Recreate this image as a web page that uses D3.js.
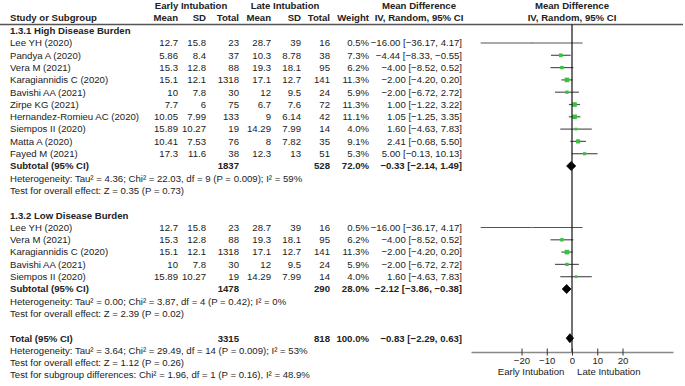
<!DOCTYPE html>
<html>
<head>
<meta charset="utf-8">
<script src="https://cdn.jsdelivr.net/npm/d3@7"></script>
<style>
  body { margin: 0; background: #fff; }
  svg text { font-family: "Liberation Sans", Arial, sans-serif; font-size: 9.6px; fill: #222; }
  .b { font-weight: bold; }
</style>
</head>
<body>
<div id="forest"></div>
<script>
var width = 685, height = 386;

// ---- data ----
var group1Names = ["Lee YH (2020)", "Pandya A (2020)", "Vera M (2021)", "Karagiannidis C (2020)", "Bavishi AA (2021)",
  "Zirpe KG (2021)", "Hernandez-Romieu AC (2020)", "Siempos II (2020)", "Matta A (2020)", "Fayed M (2021)"];
var group1EarlyMean = ["12.7", "5.86", "15.3", "15.1", "10", "7.7", "10.05", "15.89", "10.41", "17.3"];
var group1EarlySD = ["15.8", "8.4", "12.8", "12.1", "7.8", "6", "7.99", "10.27", "7.53", "11.6"];
var group1EarlyN = [23, 37, 88, 1318, 30, 75, 133, 19, 76, 38];
var group1LateMean = ["28.7", "10.3", "19.3", "17.1", "12", "6.7", "9", "14.29", "8", "12.3"];
var group1LateSD = ["39", "8.78", "18.1", "12.7", "9.5", "7.6", "6.14", "7.99", "7.82", "13"];
var group1LateN = [16, 38, 95, 141, 24, 72, 42, 14, 35, 51];
var group1Weight = [0.5, 7.3, 6.2, 11.3, 5.9, 11.3, 11.1, 4.0, 9.1, 5.3];
var group1MD = [-16.00, -4.44, -4.00, -2.00, -2.00, 1.00, 1.05, 1.60, 2.41, 5.00];
var group1Lo = [-36.17, -8.33, -8.52, -4.20, -6.72, -1.22, -1.25, -4.63, -0.68, -0.13];
var group1Hi = [4.17, -0.55, 0.52, 0.20, 2.72, 3.22, 3.35, 7.83, 5.50, 10.13];

var group2Names = ["Lee YH (2020)", "Vera M (2021)", "Karagiannidis C (2020)", "Bavishi AA (2021)", "Siempos II (2020)"];
var group2EarlyMean = ["12.7", "15.3", "15.1", "10", "15.89"];
var group2EarlySD = ["15.8", "12.8", "12.1", "7.8", "10.27"];
var group2EarlyN = [23, 88, 1318, 30, 19];
var group2LateMean = ["28.7", "19.3", "17.1", "12", "14.29"];
var group2LateSD = ["39", "18.1", "12.7", "9.5", "7.99"];
var group2LateN = [16, 95, 141, 24, 14];
var group2Weight = [0.5, 6.2, 11.3, 5.9, 4.0];
var group2MD = [-16.00, -4.00, -2.00, -2.00, 1.60];
var group2Lo = [-36.17, -8.52, -4.20, -6.72, -4.63];
var group2Hi = [4.17, 0.52, 0.20, 2.72, 7.83];

// subtotal 1, subtotal 2, overall
var pooledLabels = ["Subtotal (95% CI)", "Subtotal (95% CI)", "Total (95% CI)"];
var pooledEarlyN = [1837, 1478, 3315];
var pooledLateN = [528, 290, 818];
var pooledWeight = ["72.0%", "28.0%", "100.0%"];
var pooledMD = [-0.33, -2.12, -0.83];
var pooledLo = [-2.14, -3.86, -2.29];
var pooledHi = [1.49, -0.38, 0.63];

var group1Notes = ["Heterogeneity: Tau\u00b2 = 4.36; Chi\u00b2 = 22.03, df = 9 (P = 0.009); I\u00b2 = 59%",
  "Test for overall effect: Z = 0.35 (P = 0.73)"];
var group2Notes = ["Heterogeneity: Tau\u00b2 = 0.00; Chi\u00b2 = 3.87, df = 4 (P = 0.42); I\u00b2 = 0%",
  "Test for overall effect: Z = 2.39 (P = 0.02)"];
var totalNotes = ["Heterogeneity: Tau\u00b2 = 3.64; Chi\u00b2 = 29.49, df = 14 (P = 0.009); I\u00b2 = 53%",
  "Test for overall effect: Z = 1.12 (P = 0.26)",
  "Test for subgroup differences: Chi\u00b2 = 1.96, df = 1 (P = 0.16), I\u00b2 = 48.9%"];

var axisTicks = [-20, -10, 0, 10, 20];

// ---- build rows ----
function studyRows(names, em, esd, en, lm, lsd, ln, w, md, lo, hi) {
  return names.map(function (n, i) {
    return {type: "study", name: n, em: em[i], esd: esd[i], en: en[i], lm: lm[i], lsd: lsd[i], ln: ln[i],
            w: w[i], md: md[i], lo: lo[i], hi: hi[i]};
  });
}
function pooledRow(k) {
  return {type: "pooled", name: pooledLabels[k], en: pooledEarlyN[k], ln: pooledLateN[k],
          wText: pooledWeight[k], md: pooledMD[k], lo: pooledLo[k], hi: pooledHi[k]};
}
function noteRows(notes) { return notes.map(function (t) { return {type: "note", name: t}; }); }

var rows = [].concat(
  [{type: "heading", name: "1.3.1 High Disease Burden"}],
  studyRows(group1Names, group1EarlyMean, group1EarlySD, group1EarlyN, group1LateMean, group1LateSD, group1LateN,
            group1Weight, group1MD, group1Lo, group1Hi),
  [pooledRow(0)], noteRows(group1Notes),
  [{type: "blank"}, {type: "heading", name: "1.3.2 Low Disease Burden"}],
  studyRows(group2Names, group2EarlyMean, group2EarlySD, group2EarlyN, group2LateMean, group2LateSD, group2LateN,
            group2Weight, group2MD, group2Lo, group2Hi),
  [pooledRow(1)], noteRows(group2Notes),
  [{type: "blank"}, pooledRow(2)], noteRows(totalNotes)
);
rows.forEach(function (r, i) { r.i = i; });

// ---- scales ----
var y = d3.scaleLinear().domain([0, 1]).range([30.7, 43]);
var x = d3.scaleLinear().domain([-40, 40]).range([471, 673]);
var boxSize = d3.scaleSqrt().domain([0, 11.3]).range([0, 4.6]);

var svg = d3.select("#forest")
  .append("svg")
    .attr("width", width)
    .attr("height", height);

// column positions (right edges of numeric columns)
var cols = {name: 10, em: 178, esd: 206, en: 239, lm: 271, lsd: 301, ln: 330, w: 369, ci: 462};
var fmt = d3.format(".2f");
function ciText(d) { return fmt(d.md) + " [" + fmt(d.lo) + ", " + fmt(d.hi) + "]"; }

// ---- header ----
var head = svg.append("g");
function headText(tx, ty, anchor, label) {
  head.append("text").attr("x", tx).attr("y", ty).attr("dy", "0.35em")
    .attr("text-anchor", anchor).attr("class", "b").text(label);
}
headText(191, 6, "middle", "Early Intubation");
headText(285, 6, "middle", "Late Intubation");
headText(419, 6, "middle", "Mean Difference");
headText(x(0), 6, "middle", "Mean Difference");
headText(cols.name, 17.5, "start", "Study or Subgroup");
[["em", "Mean"], ["esd", "SD"], ["en", "Total"], ["lm", "Mean"], ["lsd", "SD"], ["ln", "Total"], ["w", "Weight"]].forEach(function (c) {
  headText(cols[c[0]], 17.5, "end", c[1]);
});
headText(419, 17.5, "middle", "IV, Random, 95% CI");
headText(x(0), 17.5, "middle", "IV, Random, 95% CI");

svg.append("line")
  .attr("x1", 0).attr("x2", 683).attr("y1", 24.5).attr("y2", 24.5)
  .style("stroke", "#555").style("stroke-width", 1.5);

// ---- table text ----
var rowG = svg.append("g").selectAll("g")
  .data(rows.filter(function (d) { return d.type !== "blank"; }))
  .enter().append("g")
    .attr("transform", function (d) { return "translate(0," + y(d.i) + ")"; });

rowG.append("text")
  .attr("x", cols.name).attr("dy", "0.35em")
  .attr("class", function (d) { return (d.type === "heading" || d.type === "pooled") ? "b" : null; })
  .text(function (d) { return d.name; });

var studyG = rowG.filter(function (d) { return d.type === "study"; });
["em", "esd", "en", "lm", "lsd", "ln"].forEach(function (k) {
  studyG.append("text").attr("x", cols[k]).attr("dy", "0.35em").attr("text-anchor", "end")
    .text(function (d) { return d[k]; });
});
studyG.append("text").attr("x", cols.w).attr("dy", "0.35em").attr("text-anchor", "end")
  .text(function (d) { return d.w.toFixed(1) + "%"; });
studyG.append("text").attr("x", cols.ci).attr("dy", "0.35em").attr("text-anchor", "end")
  .text(ciText);

var poolG = rowG.filter(function (d) { return d.type === "pooled"; });
poolG.append("text").attr("x", cols.en).attr("dy", "0.35em").attr("text-anchor", "end").attr("class", "b")
  .text(function (d) { return d.en; });
poolG.append("text").attr("x", cols.ln).attr("dy", "0.35em").attr("text-anchor", "end").attr("class", "b")
  .text(function (d) { return d.ln; });
poolG.append("text").attr("x", cols.w).attr("dy", "0.35em").attr("text-anchor", "end").attr("class", "b")
  .text(function (d) { return d.wText; });
poolG.append("text").attr("x", cols.ci).attr("dy", "0.35em").attr("text-anchor", "end").attr("class", "b")
  .text(ciText);

// ---- plot ----
var yTop = 24.5, yAxis = 352;

svg.append("line")
  .attr("x1", x(0)).attr("x2", x(0)).attr("y1", yTop).attr("y2", yAxis)
  .style("stroke", "#111").style("stroke-width", 1.2);

studyG.append("line")
  .attr("x1", function (d) { return x(d.lo); })
  .attr("x2", function (d) { return x(d.hi); })
  .style("stroke", "#555").style("stroke-width", 1.2);

studyG.append("rect")
  .attr("x", function (d) { return x(d.md) - Math.max(1.2, boxSize(d.w)) / 2; })
  .attr("y", function (d) { return -Math.max(1.2, boxSize(d.w)) / 2; })
  .attr("width", function (d) { return Math.max(1.2, boxSize(d.w)); })
  .attr("height", function (d) { return Math.max(1.2, boxSize(d.w)); })
  .style("fill", "#35c43c");

poolG.append("path")
  .attr("d", function (d) {
    return "M" + x(d.lo) + ",0L" + x(d.md) + ",-4.5L" + x(d.hi) + ",0L" + x(d.md) + ",4.5Z";
  })
  .style("fill", "#000").style("stroke", "#000").style("stroke-width", 0.8);

// axis
var axisG = svg.append("g")
  .attr("transform", "translate(0," + yAxis + ")")
  .call(d3.axisBottom(x).tickValues(axisTicks).tickSizeInner(3).tickSizeOuter(0).tickPadding(2));
axisG.select(".domain").style("stroke", "#888").style("stroke-width", 1.5);
axisG.selectAll(".tick line").attr("y1", -3.5).attr("y2", 3.5).style("stroke", "#333");
axisG.selectAll(".tick text").style("font-family", "'Liberation Sans', Arial, sans-serif")
  .style("font-size", "9.6px").style("fill", "#222");

svg.append("text").attr("x", x(-3)).attr("y", 371.5).attr("dy", "0.35em").attr("text-anchor", "end").text("Early Intubation");
svg.append("text").attr("x", x(2)).attr("y", 371.5).attr("dy", "0.35em").text("Late Intubation");
</script>
</body>
</html>
